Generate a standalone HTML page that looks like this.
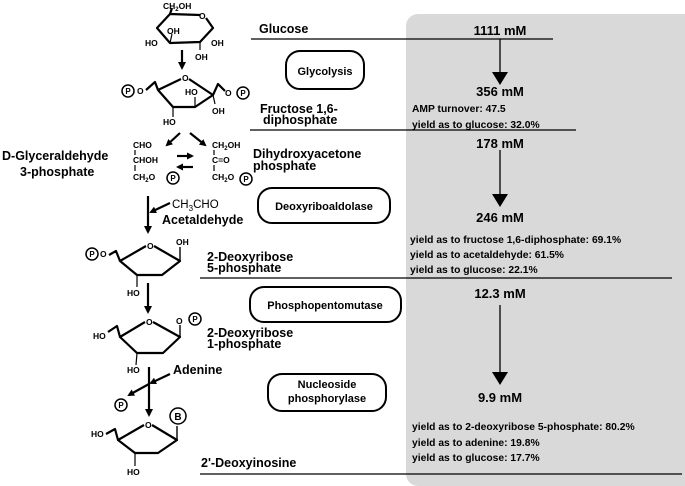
<!DOCTYPE html>
<html><head><meta charset="utf-8"><style>
html,body{margin:0;padding:0;background:#fff;}
svg{display:block;font-family:"Liberation Sans",Arial,sans-serif;font-weight:bold;}
</style></head><body>
<svg width="685" height="486" viewBox="0 0 685 486" xmlns="http://www.w3.org/2000/svg">
<defs>
<marker id="ah" markerWidth="8" markerHeight="8" refX="6" refY="4" orient="auto" markerUnits="userSpaceOnUse"><path d="M0,0 L8,4 L0,8 z" fill="#000"/></marker>
<marker id="sa" markerWidth="7" markerHeight="7" refX="5" refY="3.5" orient="auto" markerUnits="userSpaceOnUse"><path d="M0,0 L7,3.5 L0,7 z" fill="#000"/></marker>
</defs>
<rect x="406" y="14" width="290" height="472" rx="12" fill="#d9d9d9"/>
<!-- horizontal lines -->
<g stroke="#000" stroke-width="1.3">
<line x1="251" y1="39" x2="553" y2="39"/>
<line x1="250" y1="130" x2="576" y2="130"/>
<line x1="200" y1="278" x2="672" y2="278"/>
<line x1="200" y1="474" x2="682" y2="474"/>
<line x1="500" y1="39" x2="500" y2="72"/>
<line x1="500" y1="150" x2="500" y2="194"/>
<line x1="500" y1="305" x2="500" y2="372"/>
</g>
<g fill="#000">
<path d="M492,72 L508,72 L500,85 z"/>
<path d="M492,194 L508,194 L500,207 z"/>
<path d="M492,372 L508,372 L500,385 z"/>
</g>
<!-- panel text -->
<g font-size="13" text-anchor="middle">
<text x="500" y="35">1111 mM</text>
<text x="500" y="96">356 mM</text>
<text x="500" y="148">178 mM</text>
<text x="500" y="222">246 mM</text>
<text x="500" y="298">12.3 mM</text>
<text x="500" y="402">9.9 mM</text>
</g>
<g font-size="10.3">
<text x="412" y="112">AMP turnover:  47.5</text>
<text x="412" y="128">yield as to glucose:  32.0%</text>
<text x="410" y="243">yield as to fructose 1,6-diphosphate:  69.1%</text>
<text x="410" y="258">yield as to acetaldehyde: 61.5%</text>
<text x="410" y="273">yield as to glucose:  22.1%</text>
<text x="412" y="430">yield as to 2-deoxyribose 5-phosphate:  80.2%</text>
<text x="412" y="446">yield as to adenine: 19.8%</text>
<text x="412" y="461">yield as to glucose:  17.7%</text>
</g>
<!-- enzyme boxes -->
<g fill="none" stroke="#000" stroke-width="2">
<rect x="286" y="51" width="78" height="38" rx="14"/>
<rect x="258" y="188" width="132" height="35" rx="14"/>
<rect x="250" y="287" width="151" height="35" rx="14"/>
<rect x="268" y="374" width="118" height="37" rx="14"/>
</g>
<g font-size="11" text-anchor="middle">
<text x="325" y="75">Glycolysis</text>
<text x="324" y="210">Deoxyriboaldolase</text>
<text x="325" y="309">Phosphopentomutase</text>
<text x="327" y="388">Nucleoside</text>
<text x="327" y="402">phosphorylase</text>
</g>
<!-- compound names -->
<g font-size="12.5">
<text x="259" y="33">Glucose</text>
<text x="260" y="113">Fructose 1,6-</text>
<text x="263" y="124">diphosphate</text>
<text x="253" y="158">Dihydroxyacetone</text>
<text x="253" y="170">phosphate</text>
<text x="2" y="160">D-Glyceraldehyde</text>
<text x="20" y="176">3-phosphate</text>
<text x="162" y="224">Acetaldehyde</text>
<text x="207" y="261">2-Deoxyribose</text>
<text x="207" y="272">5-phosphate</text>
<text x="207" y="337">2-Deoxyribose</text>
<text x="207" y="348">1-phosphate</text>
<text x="173" y="374">Adenine</text>
<text x="201" y="467">2'-Deoxyinosine</text>
</g>
<text x="172" y="208" font-size="11.5" font-weight="normal">CH<tspan font-size="8" dy="3">3</tspan><tspan dy="-3">CHO</tspan></text>
<!-- structures -->
<g fill="none" stroke="#000" stroke-width="2.2" stroke-linejoin="round">
<!-- glucose -->
<path d="M170,14 L200,15 M206,18 L213,28 L200,42 L170,43 L157,28 L170,14 L172,8"/>
<line x1="172" y1="34" x2="170" y2="43" stroke-width="1.2"/>
<line x1="200" y1="42" x2="200" y2="50" stroke-width="1.2"/>
<!-- fructose -->
<path d="M158,90 L181,79 M189,79 L213,95 L195,107 L173,107 L158,90 L155,82 L146,90"/>
<path d="M213,95 L218,84 L225,91"/>
<line x1="173" y1="107" x2="173" y2="117" stroke-width="1.2"/>
<line x1="213" y1="95" x2="215" y2="104" stroke-width="1.2"/>
<line x1="195" y1="107" x2="195" y2="97" stroke-width="1.2"/>
<!-- deoxyribose 5P -->
<path d="M120,261 L146,246 M154,246 L180,261 L162,275 L137,275 L120,261 L116,251 L109,255"/>
<line x1="180" y1="261" x2="180" y2="247" stroke-width="1.4"/>
<line x1="137" y1="275" x2="137" y2="287" stroke-width="1.2"/>
<!-- deoxyribose 1P -->
<path d="M120,337 L145,322 M153,322 L180,337 L163,353 L137,353 L120,337 L117,326 L108,332"/>
<line x1="180" y1="337" x2="180" y2="325" stroke-width="1.4"/>
<line x1="137" y1="353" x2="136" y2="365" stroke-width="1.2"/>
<!-- deoxyinosine -->
<path d="M118,440 L144,425 M152,425 L177,440 L158,453 L135,453 L118,440 L115,429 L106,434"/>
<line x1="177" y1="440" x2="177" y2="426" stroke-width="1.4"/>
<line x1="135" y1="453" x2="135" y2="466" stroke-width="1.2"/>
</g>
<!-- labels in structures -->
<g font-size="8.5">
<text x="163" y="9">CH<tspan font-size="6" dy="2">2</tspan><tspan dy="-2">OH</tspan></text>
<text x="199" y="19">O</text>
<text x="167" y="34">OH</text>
<text x="145" y="46">HO</text>
<text x="211" y="46">OH</text>
<text x="195" y="60">OH</text>
<text x="182" y="81">O</text>
<text x="137" y="94">O</text>
<text x="225" y="96">O</text>
<text x="185" y="95">HO</text>
<text x="212" y="114">OH</text>
<text x="163" y="125">HO</text>
<text x="147" y="249">O</text>
<text x="100" y="257">O</text>
<text x="176" y="245">OH</text>
<text x="127" y="296">HO</text>
<text x="146" y="325">O</text>
<text x="176" y="324">O</text>
<text x="93" y="339">HO</text>
<text x="127" y="373">HO</text>
<text x="145" y="428">O</text>
<text x="91" y="437">HO</text>
<text x="127" y="475">HO</text>
<text x="133" y="148">CHO</text>
<text x="133" y="163">CHOH</text>
<text x="133" y="180">CH<tspan font-size="6" dy="2">2</tspan><tspan dy="-2">O</tspan></text>
<text x="212" y="148">CH<tspan font-size="6" dy="2">2</tspan><tspan dy="-2">OH</tspan></text>
<text x="212" y="163">C=O</text>
<text x="212" y="180">CH<tspan font-size="6" dy="2">2</tspan><tspan dy="-2">O</tspan></text>
</g>
<g stroke="#000" stroke-width="1.2">
<line x1="135" y1="150" x2="135" y2="155"/><line x1="135" y1="165" x2="135" y2="171"/>
<line x1="214" y1="150" x2="214" y2="155"/><line x1="214" y1="165" x2="214" y2="171"/>
</g>
<!-- P circles -->
<g fill="#fff" stroke="#000" stroke-width="1.5">
<circle cx="128" cy="91" r="6"/><circle cx="243" cy="93" r="6"/>
<circle cx="173" cy="178" r="6"/><circle cx="246" cy="179" r="6"/>
<circle cx="92" cy="254" r="6"/><circle cx="195" cy="319" r="6"/>
<circle cx="121" cy="405" r="6"/><circle cx="178" cy="416" r="8"/>
</g>
<g font-size="8" text-anchor="middle">
<text x="128" y="94">P</text><text x="243" y="96">P</text>
<text x="173" y="181">P</text><text x="246" y="182">P</text>
<text x="92" y="257">P</text><text x="195" y="322">P</text>
<text x="121" y="408">P</text><text x="178" y="420" font-size="10">B</text>
</g>
<!-- reaction arrows -->
<g stroke="#000" stroke-width="2.2" fill="none">
<line x1="182" y1="50" x2="182" y2="68" marker-end="url(#ah)"/>
<line x1="180" y1="133" x2="167" y2="145" marker-end="url(#sa)"/>
<line x1="190" y1="133" x2="205" y2="145" marker-end="url(#sa)"/>
<line x1="177" y1="156" x2="192" y2="156" marker-end="url(#sa)"/>
<line x1="193" y1="167" x2="178" y2="167" marker-end="url(#sa)"/>
<line x1="148" y1="196" x2="148" y2="232" marker-end="url(#ah)"/>
<line x1="170" y1="203" x2="151" y2="212" marker-end="url(#sa)"/>
<line x1="148" y1="283" x2="148" y2="312" marker-end="url(#ah)"/>
<line x1="149" y1="367" x2="149" y2="415" marker-end="url(#ah)"/>
<line x1="170" y1="374" x2="151" y2="383" marker-end="url(#sa)"/>
<line x1="149" y1="384" x2="129" y2="395" marker-end="url(#sa)"/>
</g>
</svg>
</body></html>
